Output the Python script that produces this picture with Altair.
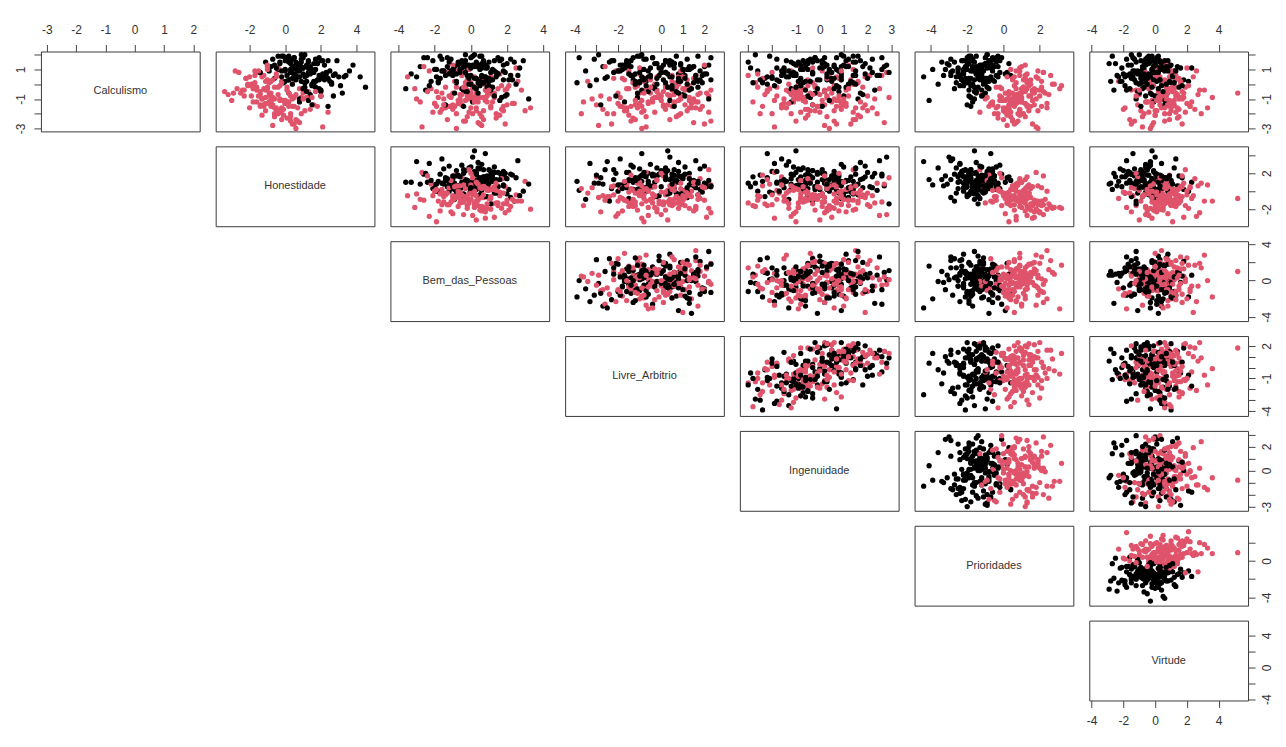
import altair as alt
import pandas as pd

variaveis = ["Calculismo", "Honestidade", "Bem_das_Pessoas", "Livre_Arbitrio",
             "Ingenuidade", "Prioridades", "Virtude"]

# ---------- grupo 1 (preto) ----------
calc_b = [1.4, 0.9, 1.8, 1.2, 0.5, 1.6, 1.9, 0.8, 1.3, 1.0, 1.7, 0.3,
          1.1, 1.5, 0.7, 1.9, 1.2, 0.4, 1.6, 1.0, 1.8, 0.6, 1.4, 1.3,
          0.9, 1.7, 1.2, 0.2, 1.5, 2.0, 1.1, 0.8, 1.6, 1.3, 0.5, 1.8,
          1.0, 1.4, 1.9, 0.7, 1.2, 1.6, 0.1, 1.5, 0.9, 1.7, 1.3, 1.1,
          1.8, 0.6, 1.3, 1.5, 1.0, 2.0, 0.8, 1.2, 1.6, 0.4, 1.4, 1.9,
          1.2, 1.7, 0.9, 1.1, 1.5, 0.3, 1.8, 1.3, 0.7, 1.6, 1.0, 1.4,
          0.4, -0.3, 0.9, 0.1, -0.8, 0.6, 1.2, -0.1, 0.3, -1.2, 0.7, 0.0,
          -0.5, 0.8, 0.2, 1.5, -0.2, 0.5, -0.9, 0.4, 1.0, -0.4, 0.1, 0.6,
          0.3, -0.6, 1.1, 0.0, 0.7, -1.4, 0.5, 0.2, -0.3, 0.9, 1.6, -0.1,
          0.6, 0.1, -0.7, 0.4, 1.3, -0.2, 0.8, -1.0, 0.2, 0.5, -0.4, 1.1,
          -0.1, 0.9, 0.3, -0.5, 0.6, 1.4, 0.0, -1.1, 0.7, 0.2, -0.3, 0.4,
          0.8, -0.8, 0.5, 0.1, -0.2, 1.0, 0.3, -1.5, 0.6, 1.2, -0.6, 0.2]
hon_b = [1.8, 0.0, 0.5, -0.8, 1.1, 0.3, -0.1, 1.5, 0.6, -0.4, 0.9, 0.2,
         0.5, -1.1, 1.4, 0.2, 0.8, -0.6, 2.1, 0.4, 0.1, 1.2, -0.3, 0.7,
         -0.9, 1.7, 0.4, 0.0, 1.3, 0.9, -0.5, 0.3, 2.4, 0.6, -0.2, 1.0,
         1.5, 0.3, -0.4, 1.0, 0.6, 2.0, -0.1, 0.2, 0.8, -0.7, 1.2, 0.5,
         0.5, 0.1, 2.2, -0.3, 0.7, 1.1, -1.4, 0.9, 0.0, 0.4, 1.6, -0.2,
         1.2, 0.4, -0.2, 1.0, 0.6, 0.2, 1.9, -0.6, 0.5, 1.3, 0.0, 0.8,
         2.4, 1.0, 3.6, 1.6, 2.0, 0.6, 1.2, 3.1, 1.9, 0.8, 2.3, 1.5,
         2.0, 1.3, 2.5, 0.9, 1.7, 3.3, 1.4, 2.2, 0.3, 1.8, 1.1, 2.7,
         1.8, 0.2, 1.0, 2.6, 2.1, 1.5, 4.2, 1.2, 1.9, 0.7, 2.9, 1.6,
         0.5, 2.6, 1.4, 1.9, 3.8, 1.1, 2.3, 0.8, 1.7, 3.0, 2.0, 1.3,
         1.5, 2.5, 2.2, 1.2, 3.4, 1.8, 0.4, 1.3, 2.8, 1.6, 1.0, 2.1,
         1.6, 2.7, 0.8, 1.1, 4.5, 1.7, 0.6, 2.4, 1.9, 1.4, 3.2, 0.9]
bp_b = [0.3, -1.2, 1.5, -0.4, 0.8, -2.1, 0.1, 1.9, -0.7, 0.5, -1.6, 1.1,
        -0.2, 2.4, -1.0, 0.6, -2.8, 0.9, 1.3, -0.5, 0.0, -1.4, 2.0, 0.4,
        -0.9, 1.7, 0.2, -1.8, 1.0, -0.3, 2.7, -1.1, 0.7, -0.1, 1.4, -2.4,
        1.2, -0.6, 0.5, -3.3, 0.9, 1.6, -0.8, 0.3, -1.5, 2.2, -0.2, 0.8,
        -1.3, 0.6, 1.8, -0.4, -2.0, 0.2, 1.1, -0.9, 2.9, -0.1, 0.7, -1.7,
        0.4, -1.1, 1.3, 0.0, -0.7, 2.1, -2.6, 0.8, 1.5, -0.3, -1.9, 0.6,
        1.0, -0.5, -1.6, 0.7, 1.9, -0.2, 0.3, -2.3, 1.2, 0.1, -0.8, 2.5,
        -0.4, 1.4, 0.5, -1.2, 0.9, -3.0, 1.7, 0.2, -0.6, 1.1, -1.8, 0.0,
        2.3, -0.9, 0.6, -0.1, 1.5, -1.4, 0.8, -2.2, 0.3, 1.8, -0.5, 1.0,
        -1.0, 0.4, 2.0, -1.7, 0.1, 1.2, -0.3, 3.2, -0.8, 0.6, -2.5, 0.9,
        0.5, -1.5, 1.1, -0.2, 2.6, -0.7, 0.0, 1.6, -1.2, 0.8, -3.6, 0.3,
        -0.6, 1.3, -1.9, 0.7, 0.2, -1.0, 1.8, -0.4, 2.2, -1.3, 0.4, 1.0]
la_b = [0.6, -2.0, -0.4, -1.5, -0.6, -2.3, -1.0, 0.2, -1.8, -0.9, -3.1, -1.3,
        -0.5, -2.4, -1.2, -1.1, -2.7, -0.2, -1.6, -0.8, -3.8, -1.4, 0.9, -1.9,
        -3.5, -0.8, -1.6, -0.7, -1.5, -2.9, -0.1, -1.0, -2.2, -1.7, 0.4, -1.3,
        1.0, 0.6, 1.7, 0.8, 1.5, 0.2, 1.9, 0.5, -0.6, 1.2, 2.2, 0.0,
        2.3, 1.1, 0.1, 0.3, 1.3, -0.9, 0.9, 2.0, 0.4, 1.6, -0.2, 0.7,
        1.5, -0.7, 1.0, 1.4, 0.5, 1.8, -0.4, 0.9, 2.1, 0.2, 1.2, 0.6,
        -2.6, -0.3, -1.9, -1.0, -2.1, -0.5, -1.4, -3.3, -0.8, -1.7, 0.3, -1.2,
        -0.6, -2.2, -1.0, -1.6, -0.4, -2.5, -1.1, 0.8, -1.8, -0.9, -3.9, -1.3,
        -3.0, -1.1, -1.7, -0.2, -1.5, -2.8, -0.9, -1.2, 0.5, -2.0, -1.4, -0.7,
        1.9, 0.2, 1.0, 1.1, 0.4, 1.7, 0.0, 2.2, 0.8, -0.5, 1.3, 0.6,
        0.5, 1.8, 0.1, 0.7, 1.6, -0.3, 1.2, 0.4, 2.0, 0.9, 1.4, -0.8,
        0.2, 1.1, 0.5, 1.5, 0.3, 1.0, 2.3, 0.6, -0.1, 1.3, 0.8, 1.7]
ing_b = [-1.1, -2.6, -0.2, 0.9, -1.4, -0.7, -2.1, 0.5, -1.0, -0.5, -1.8, 0.3,
         -2.9, -0.3, -1.2, 1.4, -0.6, -2.3, -0.1, -1.5, 0.7, -1.6, 0.1, -0.9,
         -1.3, -0.4, 1.8, -1.7, -0.9, -2.7, 0.0, -1.1, -0.5, -0.8, -2.0, 0.2,
         0.7, -0.5, 1.6, 0.9, 2.7, 0.1, 1.3, -1.2, 0.8, 1.2, 0.3, 2.1,
         -0.2, 2.4, 0.6, 1.4, -0.8, 0.9, 2.9, 0.2, 1.1, 0.5, 1.9, 1.0,
         1.2, 2.2, 0.8, -1.5, 1.5, 0.0, 2.6, 1.0, 0.3, 1.7, 0.4, -0.6,
         -0.8, 0.6, -1.6, -2.8, -0.5, -1.0, 1.1, -1.9, -0.1, -1.2, -0.3, -2.2,
         0.2, -1.5, -0.9, -3.0, 0.8, -1.3, -0.4, -2.0, -0.7, -0.6, -2.4, -1.1,
         -2.5, -0.2, -1.8, 1.5, -1.0, -0.3, -2.2, -0.6, -1.2, 0.4, -1.4, -0.8,
         1.4, -0.7, 1.8, 0.6, 2.8, 1.1, -0.3, 1.6, 0.5, 0.9, 2.3, 0.1,
         0.7, 1.5, -1.8, 0.8, 2.5, 0.2, 1.2, 0.4, 1.9, 1.3, -0.1, 2.0,
         2.2, 1.0, 0.3, 1.4, -1.0, 2.6, 0.9, 0.1, 1.5, 0.6, 1.7, -0.4]
pri_b = [-1.0, -1.8, -0.4, -1.3, -2.4, -0.8, -1.5, 0.2, -1.1, -2.0, -0.6, -1.6,
         -0.9, -2.7, -1.2, -0.3, -1.7, -1.4, -0.7, -2.2, -1.0, 0.4, -1.9, -1.3,
         -1.6, -0.5, -2.1, -1.1, -3.4, -0.9, -1.4, -0.2, -1.8, -1.2, -2.6, -0.6,
         -1.3, -0.8, -1.9, 0.1, -1.5, -2.3, -1.0, -0.4, -1.7, -2.9, -1.1, -0.7,
         -2.0, -1.2, -0.6, -1.6, -3.9, -0.9, -1.4, -0.3, -2.2, -1.0, 0.3, -1.8,
         -0.5, -1.7, -1.1, -2.5, -0.8, -1.3, -0.1, -2.0, -1.5, -0.7, -1.2, -3.1,
         -2.1, -1.5, -2.8, -1.0, -1.9, -3.3, -1.3, -2.4, -0.6, -1.7, -2.2, -1.1,
         -1.6, -2.9, -0.8, -2.0, -1.4, -4.4, -1.8, -0.9, -2.5, -1.2, -2.1, -0.4,
         -2.3, -1.0, -1.7, -3.6, -1.5, -2.0, -0.7, -1.9, -2.7, -1.3, -0.2, -2.2,
         -1.4, -2.6, -1.1, -1.8, -3.0, -0.9, -2.2, -1.6, -0.5, -2.4, -1.9, -1.2,
         -1.8, -0.6, -2.3, -1.5, -2.9, -1.0, -1.7, -4.1, -1.3, -2.1, -0.8, -1.9,
         -2.5, -1.2, -0.3, -2.0, -1.6, -3.2, -1.1, -1.8, -2.4, -0.7, -1.5, -2.2]
vir_b = [-0.4, 1.2, -1.4, -0.1, -2.3, 0.3, -0.2, -1.1, 0.5, -0.7, -1.8, 0.1,
         1.6, -1.2, -0.2, -2.7, 0.4, -0.8, -0.9, 0.7, -0.3, -1.6, 0.0, -0.6,
         0.6, -1.3, -0.1, 2.1, -0.7, -1.5, 0.2, -1.0, -0.5, 0.9, -1.9, -0.3,
         -0.8, 0.4, -0.4, -1.1, 1.4, 0.0, -0.6, 0.3, -1.4, -0.2, 1.0, -2.1,
         -0.5, 1.1, -1.7, -0.3, 0.5, -1.0, -1.2, -0.1, 0.8, -0.9, -2.5, 0.2,
         0.9, -0.6, -1.1, 0.3, -0.4, 1.8, 0.1, -1.5, -0.7, 0.6, -0.2, -2.9,
         -0.5, -1.6, 1.3, -0.9, 0.0, -2.4, -0.8, 0.4, -1.3, -0.1, -2.0, 0.7,
         -1.1, 0.2, -2.2, -0.6, 1.5, -0.3, 0.5, -0.7, -0.2, -1.8, 1.0, -0.4,
         0.3, -1.0, 2.3, -0.5, -1.6, 0.6, -1.4, 0.1, -0.8, 0.8, -0.3, -1.9,
         -0.9, 1.2, -0.2, -1.5, 0.0, -0.7, -0.1, -1.2, 0.9, -0.6, -2.6, 0.4,
         1.7, -1.3, -0.1, 0.5, -1.8, -0.5, -1.0, 0.6, -0.4, -2.1, 0.2, -0.8,
         0.1, -0.6, 1.1, -1.2, -0.2, 0.4, 0.3, -0.9, -1.5, 0.7, -0.3, -2.8]

# ---------- grupo 2 (vermelho) ----------
calc_r = [-0.3, 0.5, -1.0, 0.1, -0.6, 0.9, -1.5, -0.2, 0.3, -0.8, 1.1, -0.4,
          0.0, -1.2, 0.6, -0.5, -1.8, 0.2, -0.1, 0.8, -0.9, -0.3, 0.4, -1.4,
          0.7, -0.6, -0.2, 1.2, -1.1, 0.1, -0.7, 0.4, -2.0, -0.4, 0.9, -0.1,
          -0.8, 0.3, -0.4, 0.6, -1.3, 0.0, 1.0, -0.6, -0.2, 0.5, -1.6, 0.2,
          0.4, -0.9, 0.1, -0.3, 0.8, -1.2, -0.5, 0.3, -0.1, 1.3, -0.7, -1.0,
          -0.2, 0.6, -1.5, 0.0, -0.6, 0.9, -0.3, -1.1, 0.2, -0.8, 0.5, -0.4,
          -1.2, -2.0, -0.6, -1.6, -2.7, -1.0, -0.3, -1.8, -1.4, -2.3, -0.8, -1.5,
          -1.9, -0.9, -1.3, -2.5, -0.5, -1.7, -1.1, -2.9, -1.5, -0.7, -2.1, -1.2,
          -1.6, -2.4, -1.0, -0.2, -1.8, -1.3, -2.8, -0.9, -1.5, -2.0, -0.6, -1.4,
          -1.1, -1.7, -2.2, -0.8, -1.4, -2.6, -1.0, -0.4, -1.9, -1.3, -3.0, -1.6,
          -2.0, -0.7, -1.5, -1.2, -2.4, -0.9, -1.8, -1.1, -2.7, -0.5, -1.6, -1.3,
          -1.4, -2.2, -0.9, -1.7, -0.3, -2.5, -1.2, -1.9, -1.0, -2.1, -1.5, -0.8]
hon_r = [-1.2, -2.0, -0.6, -1.7, -0.9, -2.8, -1.4, 0.1, -1.0, -2.3, -0.4, -1.6,
         -1.9, -0.8, -1.3, -3.4, -1.1, -0.2, -2.1, -1.5, -0.7, -1.8, 0.6, -1.2,
         -0.5, -2.5, -1.6, -1.0, -3.0, -0.9, -1.4, -2.2, 0.3, -1.1, -1.7, -0.3,
         -1.5, -0.7, -2.4, -1.2, 0.0, -1.8, -1.0, -2.9, -0.4, -1.3, -2.0, -0.8,
         -2.2, -1.1, -0.2, -1.6, -2.6, -0.9, -1.4, 0.5, -1.9, -1.0, -3.2, -1.3,
         -0.6, -1.7, -1.2, -2.1, -0.8, -1.5, -2.7, -0.3, -1.1, -1.9, -0.5, -2.3,
         0.2, -0.6, 1.0, -0.2, 0.5, -1.3, 0.8, -0.4, 1.6, 0.1, -0.9, 0.4,
         -0.3, 0.9, -1.1, 0.3, 1.3, -0.5, 0.0, 2.1, -0.8, 0.6, -0.1, -1.6,
         0.7, -0.2, 0.4, -1.0, 1.1, 0.0, -0.7, 0.5, 1.8, -0.4, 0.2, -1.4,
         -0.1, 1.4, -0.6, 0.3, -1.2, 0.8, -0.3, 0.1, 2.4, -0.9, 0.6, -0.5,
         0.9, -0.4, 0.2, -1.8, 0.6, 1.2, -0.2, -0.8, 0.4, 1.7, -0.6, 0.0,
         -0.7, 0.3, 1.5, -0.1, -1.0, 0.7, 0.1, -0.5, 1.0, -1.3, 0.5, 2.0]
bp_r = [-0.4, 1.1, -1.5, 0.6, 0.0, -2.3, 1.8, -0.8, 0.4, -1.1, 2.5, -0.2,
        0.9, -0.6, 1.4, -1.9, 0.3, -0.1, 2.1, -1.3, 0.7, -3.1, 1.0, -0.5,
        1.6, -1.0, 0.2, -2.6, 0.8, -0.3, 1.2, -1.7, 0.5, 2.8, -0.7, 0.1,
        -1.2, 0.4, 1.9, -0.5, -2.0, 0.7, -0.1, 1.3, -1.4, 0.2, 3.3, -0.9,
        0.6, -1.8, 0.0, 1.5, -0.4, -2.8, 0.9, -0.2, 1.7, -1.0, 0.3, -0.6,
        -0.3, 2.2, -1.1, 0.5, 1.0, -1.6, 0.1, -0.7, 2.6, -0.2, -3.5, 0.8,
        1.2, -0.8, 0.3, -1.4, 1.9, -0.1, -2.2, 0.7, -0.5, 1.4, 0.0, -1.2,
        -1.7, 0.5, 2.4, -0.3, 0.9, -1.0, 0.2, -2.7, 1.1, -0.6, 1.6, 0.4,
        0.0, -1.3, 0.8, -0.4, 3.0, -2.0, 0.6, 1.3, -0.9, 0.1, -1.6, 2.0,
        -0.6, 1.7, -0.2, 0.9, -1.5, 0.4, -3.0, 1.0, -0.1, 2.3, -0.8, 0.3,
        1.4, -0.5, -1.9, 0.2, 0.7, -1.1, 1.8, -0.3, 0.5, -2.4, 1.1, -0.7,
        -1.0, 0.6, 0.1, -1.6, 2.0, -0.4, 0.9, -2.1, 0.3, 1.5, -0.9, 0.0]
la_r = [-1.5, -0.2, -2.4, -1.3, -0.5, -2.1, -0.9, 0.3, -1.7, -2.8, -1.0, 0.5,
        0.8, -0.4, -1.4, -0.8, -1.6, -3.4, -1.1, 0.1, -1.9, -0.6, -2.2, -1.2,
        -1.0, -2.0, -1.2, -2.6, -0.9, -1.3, -0.1, -1.8, -3.7, -0.7, -1.5, 0.2,
        0.4, 1.2, 2.3, 0.5, 1.4, -0.3, 1.0, 2.1, 0.2, 0.8, 1.6, -0.8,
        1.5, -0.1, 0.7, 1.1, 0.0, 1.7, 0.6, -0.5, 1.3, 2.0, 0.3, 0.9,
        0.7, 1.6, 0.1, 0.2, 1.8, 0.9, -0.6, 1.3, 0.5, 2.2, 1.0, -0.2,
        -0.6, -2.5, -1.0, -1.1, -2.3, -0.4, -1.6, -0.8, -3.0, -1.3, 0.4, -1.9,
        -0.9, -1.1, -2.0, -1.4, -0.2, -2.7, -1.2, -0.7, -1.8, 0.6, -1.5, -3.6,
        -1.6, -1.2, -3.2, -0.5, -1.7, -1.0, -2.9, -0.3, -1.4, -2.2, -0.8, 0.1,
        0.0, 1.8, 0.7, 0.9, 0.3, 1.5, -0.4, 1.1, 2.2, 0.6, -0.9, 1.3,
        0.9, 1.7, 0.5, 1.6, 0.4, -0.2, 1.2, 0.8, 2.0, 0.1, 1.4, -0.6,
        1.1, -0.7, 1.3, 0.2, 1.0, 2.3, 0.6, -0.3, 1.5, 0.8, 1.9, 0.0]
ing_r = [-0.7, 0.4, -1.5, -2.7, -0.1, -1.2, 0.9, -1.8, -0.5, -1.0, -0.3, -2.2,
         -1.3, -0.6, -3.0, -1.0, 0.6, -1.7, -0.2, -2.0, -0.8, -0.9, -2.4, 0.2,
         -2.6, -1.1, 1.2, -0.8, -1.9, -0.3, -2.3, 0.3, -1.2, -1.4, 0.1, -0.5,
         2.0, 0.9, 0.2, 2.6, 1.1, -0.9, 1.4, 0.5, 1.8, 0.7, 1.5, -0.4,
         0.8, -0.6, 1.6, 0.4, 2.8, 1.0, -1.3, 1.3, 0.6, 1.2, 0.0, 2.3,
         -0.2, 2.1, 0.7, 1.4, -0.8, 0.9, 2.5, 0.1, 1.6, 0.3, 1.9, 1.1,
         -1.1, -2.5, -0.4, -1.4, 0.7, -0.9, -2.1, -0.2, -1.6, -0.6, -1.8, 0.0,
         -0.8, 0.3, -1.5, -1.0, -2.2, 0.9, -0.7, -1.9, -0.1, -1.2, -0.5, -2.8,
         -1.6, 1.4, -1.1, -2.6, -0.4, -1.3, 0.2, -0.7, -2.4, -2.0, -0.9, -0.3,
         0.8, -0.5, 1.7, 1.2, 0.1, 2.7, 0.6, -1.1, 1.4, 1.0, 0.4, 2.2,
         2.4, -0.3, 1.1, 0.5, 1.5, -0.8, 2.0, 0.7, 1.3, 0.2, 1.8, 0.9,
         1.9, 0.3, 2.9, -0.6, 1.2, 0.6, 1.7, 0.0, 1.0, 1.6, -0.1, 0.8]
pri_r = [1.0, 1.8, 0.4, 1.3, 2.3, 0.7, 1.5, -0.2, 1.1, 2.0, 0.9, 1.6,
         2.7, 0.8, 1.2, 0.3, 1.9, 1.4, 0.6, 2.2, 1.0, 3.1, 0.5, 1.7,
         1.3, 0.1, 2.1, 1.0, 1.6, 0.7, 2.5, 1.2, -0.3, 1.8, 0.9, 1.4,
         0.6, 1.5, 2.0, 0.9, 1.2, 2.8, 0.4, 1.7, 1.1, 0.2, 2.4, 1.3,
         1.9, 0.8, 1.4, -0.1, 2.2, 1.0, 1.6, 0.5, 3.2, 1.2, 0.7, 1.8,
         1.1, 2.6, 0.3, 1.5, 0.9, 1.9, 1.3, 0.0, 2.1, 1.4, 0.6, 1.7,
         0.4, -0.5, 1.0, 0.2, 1.6, -1.0, 0.7, 0.0, 1.3, -0.3, 0.9, 2.1,
         0.1, 0.8, -0.7, 0.5, 1.2, 0.3, -0.2, 1.8, 0.6, -1.2, 0.9, 0.4,
         1.4, 0.0, 0.6, -0.4, 0.9, 2.4, 0.2, 0.7, -0.8, 1.1, 0.5, 0.3,
         -0.1, 0.9, 0.4, 1.5, -0.6, 0.7, 0.2, 1.1, -1.3, 0.6, 1.9, 0.0,
         0.8, 0.3, -0.3, 1.0, 0.5, -0.9, 1.4, 0.1, 0.6, 2.2, -0.4, 0.7,
         0.5, 1.2, -0.1, 0.3, 1.7, 0.8, -0.6, 0.4, 1.0, 0.2, 1.3, -0.2]
vir_r = [0.8, 0.3, 1.7, -0.6, 0.5, 2.6, 0.6, -0.4, 1.3, 0.1, 2.0, -1.2,
         -0.3, 2.3, 0.2, 1.1, -0.9, 0.9, -0.1, 1.0, 0.4, -1.8, 1.5, 0.7,
         -1.4, 0.8, 1.9, 0.3, -0.2, 1.6, 1.4, -0.5, 0.6, 3.1, 0.0, 1.2,
         1.3, 0.6, 2.8, -0.1, 1.0, 0.5, 0.2, 1.8, -0.7, 0.9, 0.4, -2.3,
         0.0, 3.6, 0.4, 1.2, -0.6, 0.8, 1.1, -0.3, 2.1, 0.7, -1.0, 1.5,
         0.7, 1.3, -0.2, 0.5, 5.2, 1.0, -0.4, 0.9, 1.6, 0.2, 2.4, -1.5,
         -0.5, 0.9, 0.3, -1.9, 1.7, 0.6, 0.8, 0.1, -1.1, 1.4, 0.5, 2.2,
         -0.4, 1.8, 0.7, -1.3, 0.2, 1.5, 1.2, -0.8, 0.4, 2.7, 0.0, 1.0,
         3.3, -1.6, 0.6, 1.1, 0.0, 2.0, -0.2, 1.6, 0.9, -0.7, 1.3, 0.3,
         0.1, 2.5, -0.8, 0.7, 1.2, -0.1, 0.5, -1.0, 1.9, 0.8, -0.3, 1.4,
         2.9, 0.4, 1.1, -0.6, 0.9, 0.2, 1.0, 0.3, -1.5, 1.7, 0.6, -0.2,
         0.8, 1.5, 0.3, -2.0, 1.0, 0.6, -0.5, 1.3, 0.7, 0.0, 2.2, -1.2]

# ---------- eixos ----------
dominios = {
    "Calculismo": [-3.2, 2.22],
    "Honestidade": [-3.9, 5.0],
    "Bem_das_Pessoas": [-4.45, 4.33],
    "Livre_Arbitrio": [-4.45, 2.9],
    "Ingenuidade": [-3.35, 3.3],
    "Prioridades": [-4.9, 3.85],
    "Virtude": [-4.15, 5.85],
}
ticks_x = {
    "Calculismo": [-3, -2, -1, 0, 1, 2],
    "Honestidade": [-2, 0, 2, 4],
    "Bem_das_Pessoas": [-4, -2, 0, 2, 4],
    "Livre_Arbitrio": [-4, -3, -2, -1, 0, 1, 2],
    "Ingenuidade": [-3, -2, -1, 0, 1, 2, 3],
    "Prioridades": [-4, -2, 0, 2],
    "Virtude": [-4, -2, 0, 2, 4],
}
rotulos_x = {
    "Calculismo": [-3, -2, -1, 0, 1, 2],
    "Honestidade": [-2, 0, 2, 4],
    "Bem_das_Pessoas": [-4, -2, 0, 2, 4],
    "Livre_Arbitrio": [-4, -2, 0, 1, 2],
    "Ingenuidade": [-3, -1, 0, 1, 2, 3],
    "Prioridades": [-4, -2, 0, 2],
    "Virtude": [-4, -2, 0, 2, 4],
}
ticks_y = {
    "Calculismo": [-3, -2, -1, 0, 1, 2],
    "Honestidade": [-2, 0, 2, 4],
    "Bem_das_Pessoas": [-4, -2, 0, 2, 4],
    "Livre_Arbitrio": [-4, -3, -2, -1, 0, 1, 2],
    "Ingenuidade": [-3, -2, -1, 0, 1, 2, 3],
    "Prioridades": [-4, -2, 0, 2],
    "Virtude": [-4, -2, 0, 2, 4],
}
rotulos_y = {
    "Calculismo": [1, -1, -3],
    "Honestidade": [2, -2],
    "Bem_das_Pessoas": [4, 0, -4],
    "Livre_Arbitrio": [2, -1, -4],
    "Ingenuidade": [2, 0, -3],
    "Prioridades": [0, -4],
    "Virtude": [4, 0, -4],
}

# ---------- dados ----------
cols_b = [calc_b, hon_b, bp_b, la_b, ing_b, pri_b, vir_b]
cols_r = [calc_r, hon_r, bp_r, la_r, ing_r, pri_r, vir_r]
registros = []
nb = min(len(c) for c in cols_b)
nr = min(len(c) for c in cols_r)
for i in range(nb):
    rec = {v: cols_b[k][i] for k, v in enumerate(variaveis)}
    rec["grupo"] = "1"
    rec["ordem"] = 2 * i
    registros.append(rec)
for i in range(nr):
    rec = {v: cols_r[k][i] for k, v in enumerate(variaveis)}
    rec["grupo"] = "2"
    rec["ordem"] = 2 * i + 1
    registros.append(rec)
df = pd.DataFrame(registros)

W, H = 159, 80
FONTE = "Liberation Sans"


def expr_rotulos(vals):
    lista = ",".join(str(v) for v in vals)
    return "indexof([" + lista + "], datum.value) >= 0 ? '' + datum.value : ''"


def eixo_x(var, orient):
    return alt.Axis(orient=orient, values=ticks_x[var], labelExpr=expr_rotulos(rotulos_x[var]),
                    domain=False, grid=False, tickSize=7, tickColor="#444", tickWidth=1,
                    labelColor="#333", labelFont=FONTE, labelFontSize=12, labelPadding=8,
                    labelFlush=False, labelOverlap=False, labelAngle=0, title=None)


def eixo_y(var, orient):
    return alt.Axis(orient=orient, values=ticks_y[var], labelExpr=expr_rotulos(rotulos_y[var]),
                    domain=False, grid=False, tickSize=7, tickColor="#444", tickWidth=1,
                    labelColor="#333", labelFont=FONTE, labelFontSize=12, labelPadding=6,
                    labelFlush=False, labelOverlap=False, labelAngle=270, labelAlign="center",
                    labelBaseline="top" if orient == "right" else "bottom", title=None)


def escala(var):
    return alt.Scale(domain=dominios[var], nice=False, zero=False)


celulas = []
for i in range(7):
    for j in range(7):
        vy = variaveis[i]
        vx = variaveis[j]
        if j < i:
            c = alt.Chart(alt.Data(values=[{"v": 0}])).mark_point(opacity=0).encode(
                x=alt.value(0), y=alt.value(0)
            ).properties(width=W, height=H, view=alt.ViewBackground(strokeOpacity=0))
        elif j == i:
            ax_x = eixo_x(vx, "top") if i == 0 else (eixo_x(vx, "bottom") if i == 6 else None)
            ax_y = eixo_y(vy, "left") if i == 0 else (eixo_y(vy, "right") if i == 6 else None)
            centro = pd.DataFrame({
                "rotulo": [vx],
                "xc": [sum(dominios[vx]) / 2],
                "yc": [sum(dominios[vy]) / 2],
            })
            c = alt.Chart(centro).mark_text(font=FONTE, fontSize=11, color="#333").encode(
                x=alt.X("xc:Q", scale=escala(vx), axis=ax_x),
                y=alt.Y("yc:Q", scale=escala(vy), axis=ax_y),
                text="rotulo:N",
            ).properties(width=W, height=H)
        else:
            ax_x = eixo_x(vx, "top") if i == 0 else None
            ax_y = eixo_y(vy, "right") if j == 6 else None
            c = alt.Chart(df).mark_circle(size=28, opacity=1).encode(
                x=alt.X(vx + ":Q", scale=escala(vx), axis=ax_x),
                y=alt.Y(vy + ":Q", scale=escala(vy), axis=ax_y),
                color=alt.Color("grupo:N",
                                scale=alt.Scale(domain=["1", "2"], range=["#000000", "#DF536B"]),
                                legend=None),
                order=alt.Order("ordem:Q"),
            ).properties(width=W, height=H)
        celulas.append(c)

chart = alt.concat(*celulas, columns=7, spacing={"row": 15, "column": 16}, bounds="flush").properties(
    padding={"left": 6, "top": 14, "right": 5, "bottom": 5}
).configure_view(stroke="#3a3a3a", strokeWidth=1)

chart.save("out.html", embed_options={"renderer": "svg", "actions": False})
